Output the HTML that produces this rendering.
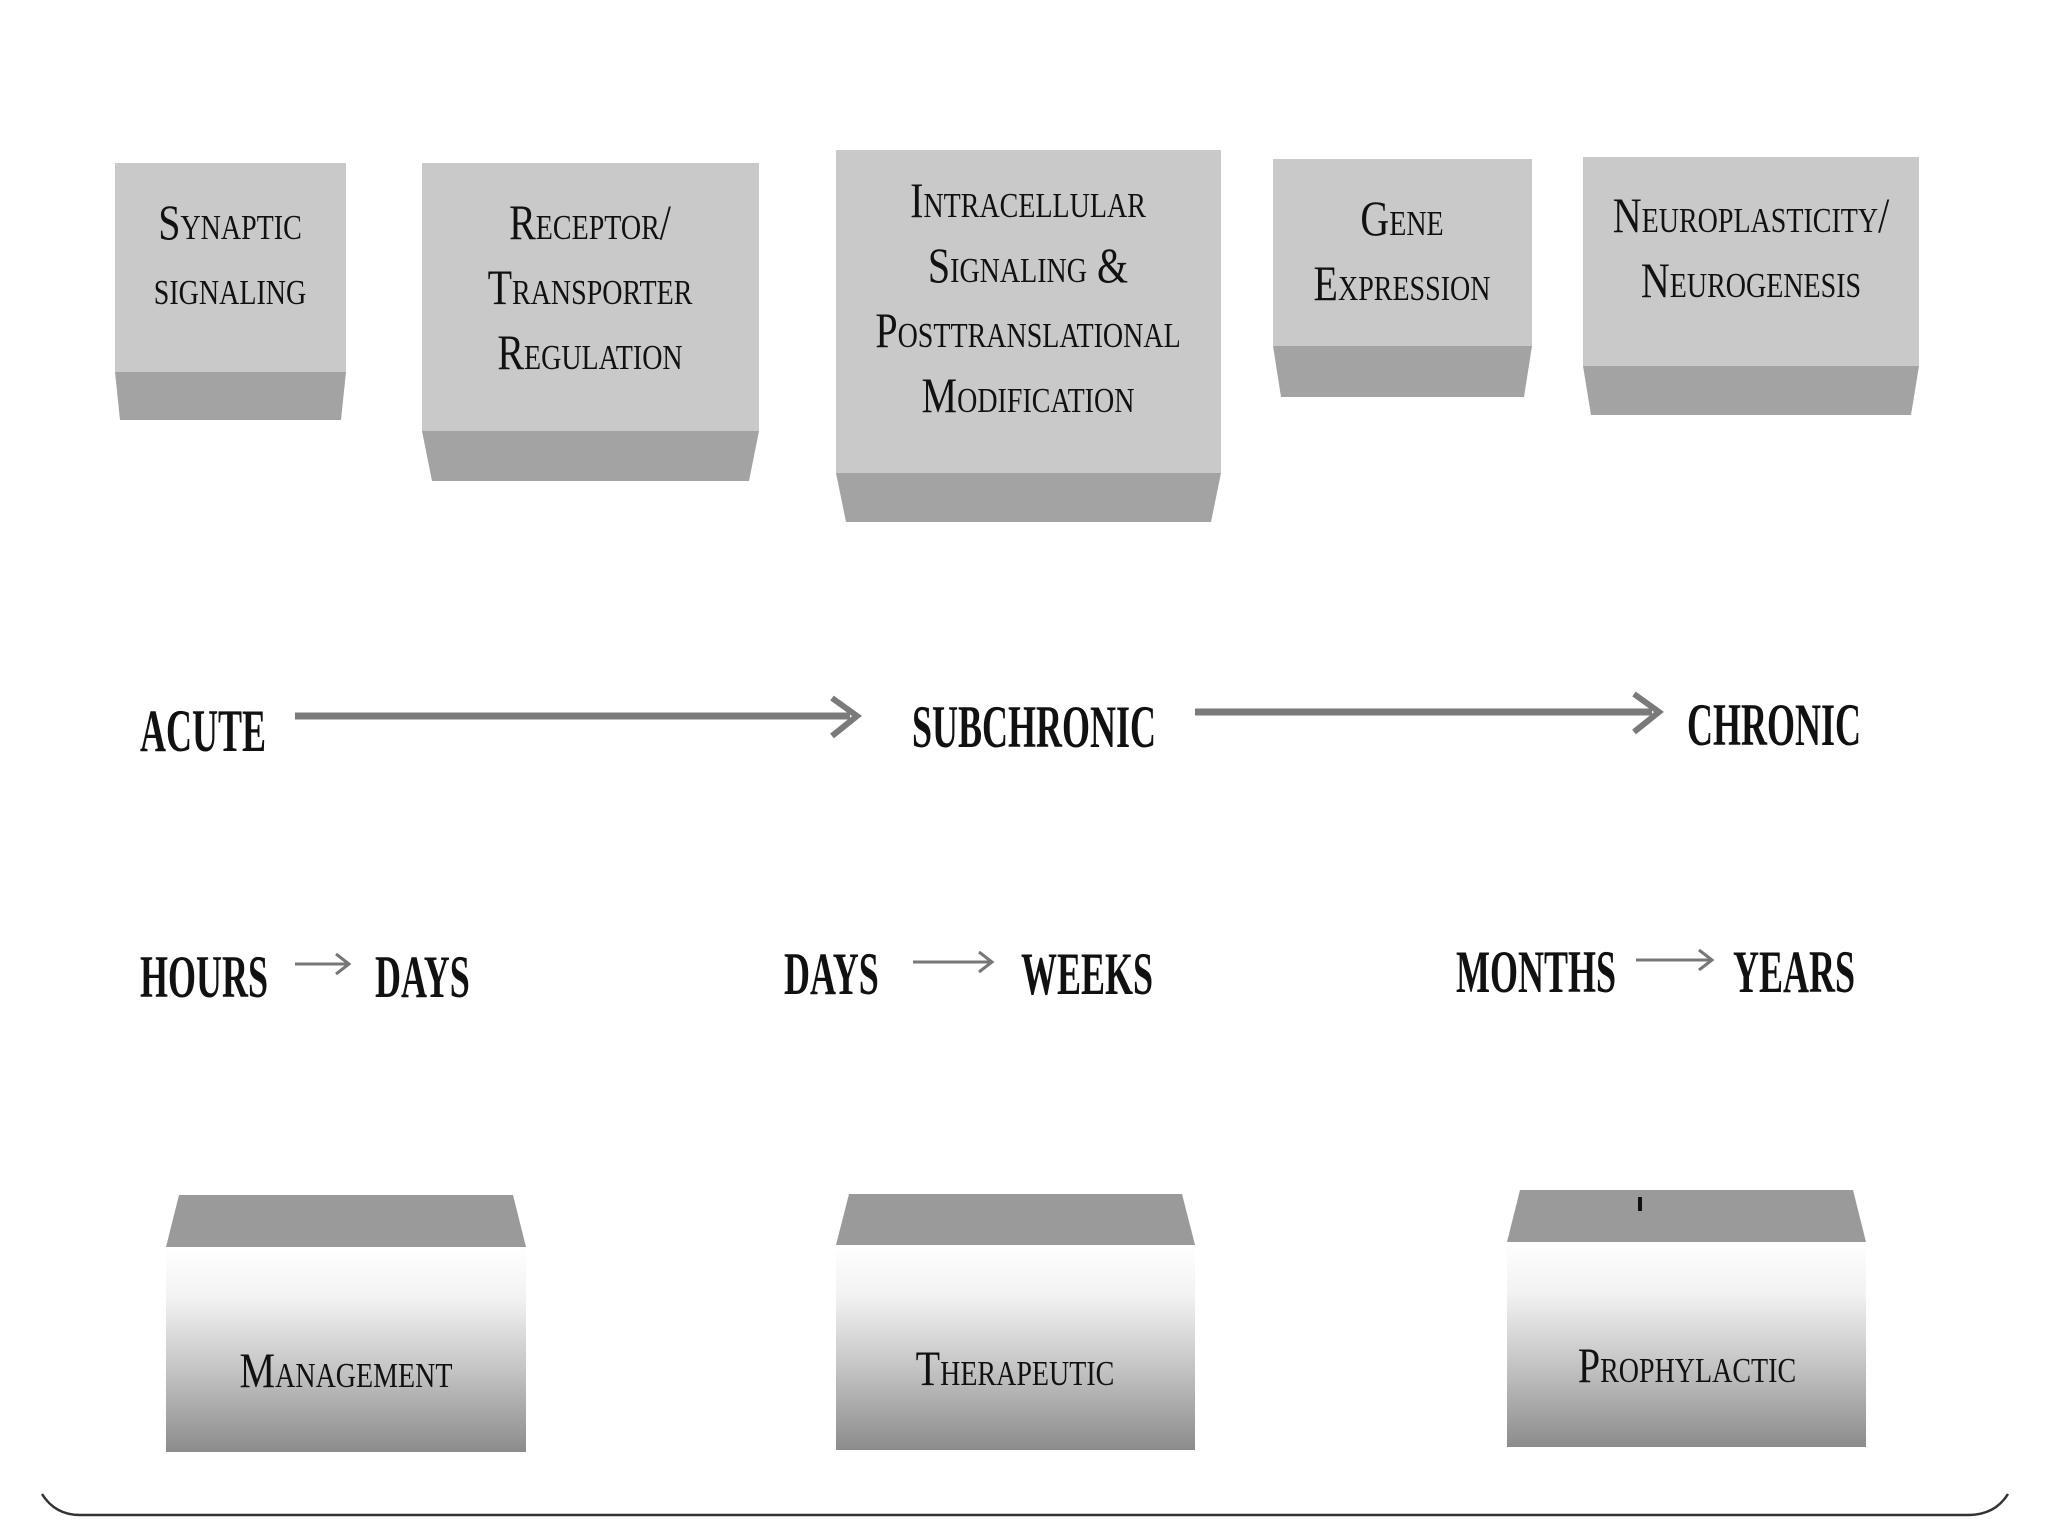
<!DOCTYPE html>
<html><head><meta charset="utf-8"><style>
body{margin:0;width:2048px;height:1536px;background:#fff;position:relative;overflow:hidden;font-family:"Liberation Serif",serif;}
.bx{position:absolute;background:#c9c9c9;}
.t{position:absolute;white-space:nowrap;text-align:center;color:#111;font-variant:small-caps;font-size:50px;line-height:65px;transform:translateX(-50%) scaleX(0.8);transform-origin:center;}
.b{position:absolute;white-space:nowrap;color:#111;font-weight:bold;font-size:60px;transform:scaleX(0.6);transform-origin:left center;line-height:60px;}
.body{position:absolute;background:linear-gradient(#fff 0%,#f2f2f2 25%,#c4c4c4 60%,#8c8c8c 100%);}
</style></head><body>
<svg width="2048" height="1536" style="position:absolute;left:0;top:0">
<polygon points="115,372 346,372 341,420 120,420" fill="#a3a3a3"/>
<polygon points="422,431 759,431 749,481 432,481" fill="#a3a3a3"/>
<polygon points="836,473 1221,473 1211,522 846,522" fill="#a3a3a3"/>
<polygon points="1273,346 1532,346 1524,397 1281,397" fill="#a3a3a3"/>
<polygon points="1583,366 1919,366 1911,415 1591,415" fill="#a3a3a3"/>
<line x1="295" y1="716" x2="850" y2="716" stroke="#7a7a7a" stroke-width="7"/>
<polyline points="832,698 857,716 832,736" fill="none" stroke="#7a7a7a" stroke-width="6"/>
<line x1="1195" y1="712" x2="1652" y2="712" stroke="#7a7a7a" stroke-width="7"/>
<polyline points="1634,694 1659,712 1634,732" fill="none" stroke="#7a7a7a" stroke-width="6"/>
<g stroke="#777" stroke-width="3" fill="none">
<line x1="295" y1="964" x2="348" y2="964"/><polyline points="336,954 349,964 336,974"/>
<line x1="913" y1="962" x2="991" y2="962"/><polyline points="979,952 992,962 979,972"/>
<line x1="1636" y1="960" x2="1711" y2="960"/><polyline points="1699,950 1712,960 1699,970"/>
</g>
<polygon points="179,1195 513,1195 526,1247 166,1247" fill="#9a9a9a"/>
<polygon points="849,1194 1182,1194 1195,1245 836,1245" fill="#9a9a9a"/>
<polygon points="1520,1190 1853,1190 1866,1242 1507,1242" fill="#9a9a9a"/>
<rect x="1638" y="1197" width="4" height="14" fill="#111"/>
<path d="M42,1494 Q55,1515 80,1515 L1968,1515 Q1995,1515 2008,1494" fill="none" stroke="#333" stroke-width="2.5"/>
</svg>
<div class="bx" style="left:115px;top:163px;width:231px;height:209px"></div>
<div class="bx" style="left:422px;top:163px;width:337px;height:268px"></div>
<div class="bx" style="left:836px;top:150px;width:385px;height:323px"></div>
<div class="bx" style="left:1273px;top:159px;width:259px;height:187px"></div>
<div class="bx" style="left:1583px;top:157px;width:336px;height:209px"></div>
<div class="t" style="left:230px;top:190px">Synaptic<br>signaling</div>
<div class="t" style="left:590px;top:190px">Receptor/<br>Transporter<br>Regulation</div>
<div class="t" style="left:1028px;top:168px">Intracellular<br>Signaling &amp;<br>Posttranslational<br>Modification</div>
<div class="t" style="left:1402px;top:186px">Gene<br>Expression</div>
<div class="t" style="left:1751px;top:183px">Neuroplasticity/<br>Neurogenesis</div>
<div class="b" style="left:140px;top:701px">ACUTE</div>
<div class="b" style="left:912px;top:697px">SUBCHRONIC</div>
<div class="b" style="left:1687px;top:695px">CHRONIC</div>
<div class="b" style="left:140px;top:947px">HOURS</div>
<div class="b" style="left:375px;top:947px">DAYS</div>
<div class="b" style="left:784px;top:944px">DAYS</div>
<div class="b" style="left:1021px;top:944px">WEEKS</div>
<div class="b" style="left:1456px;top:942px">MONTHS</div>
<div class="b" style="left:1733px;top:942px">YEARS</div>
<div class="body" style="left:166px;top:1247px;width:360px;height:205px"></div>
<div class="body" style="left:836px;top:1245px;width:359px;height:205px"></div>
<div class="body" style="left:1507px;top:1242px;width:359px;height:205px"></div>
<div class="t" style="left:346px;top:1338px">Management</div>
<div class="t" style="left:1015px;top:1336px">Therapeutic</div>
<div class="t" style="left:1687px;top:1333px">Prophylactic</div>
</body></html>
